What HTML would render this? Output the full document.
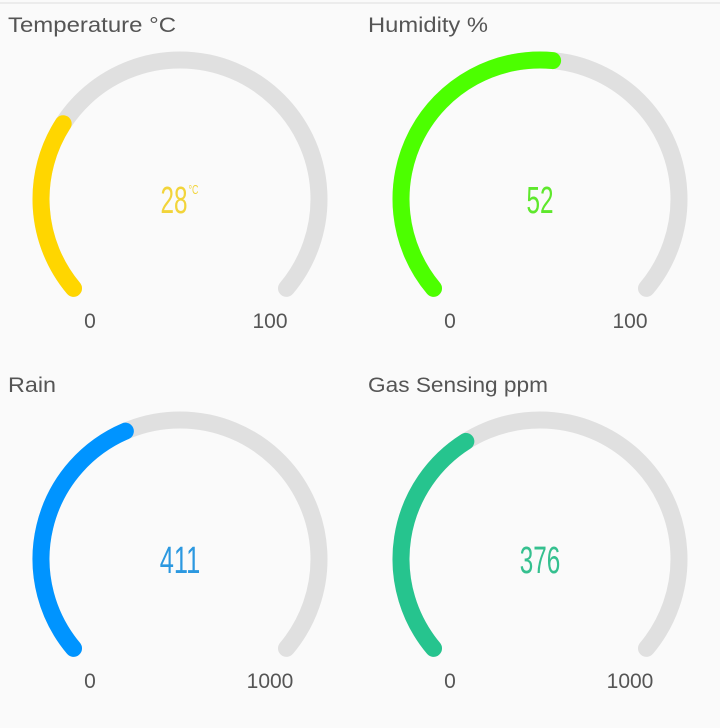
<!DOCTYPE html>
<html><head><meta charset="utf-8">
<style>
html,body{margin:0;padding:0;background:#fafafa;width:720px;height:728px;overflow:hidden;font-family:"Liberation Sans",sans-serif;}
#topline{position:absolute;left:0;top:2px;width:720px;height:2px;background:#ececec;}
svg{position:absolute;left:0;top:0;}
</style></head>
<body>
<div id="topline"></div>
<svg id="g" width="720" height="728"></svg>
<script>
const titles = ["Temperature °C","Humidity %","Rain","Gas Sensing ppm"];
const values = [28,52,411,376];
const maxVals = [100,100,1000,1000];
const units = ["°C","","",""];
const colors = ["#FFD600","#4CFF00","#0094FF","#26C48E"];
const textColors = ["#F2D43A","#5EE82C","#2B98E0","#35C08F"];
const names = ["temperature","humidity","rain","gas-sensing"];

const svg = document.getElementById('g');
const NS = "http://www.w3.org/2000/svg";
const R = 139, SW = 17, START = 220, SWEEP = 260;
function pt(cx,cy,deg){const a=deg*Math.PI/180;return [cx+R*Math.cos(a),cy-R*Math.sin(a)];}
function arc(cx,cy,a0,a1){
  const p0=pt(cx,cy,a0),p1=pt(cx,cy,a1);
  const large=(a0-a1)>180?1:0;
  return `M${p0[0]} ${p0[1]} A${R} ${R} 0 ${large} 1 ${p1[0]} ${p1[1]}`;
}
function mk(tag,attrs,parent){const e=document.createElementNS(NS,tag);for(const k in attrs)e.setAttribute(k,attrs[k]);(parent||svg).appendChild(e);return e;}

titles.forEach((t,i)=>{
  const col=i%2,row=Math.floor(i/2);
  const ox=col*360, cx=ox+180, cy=199+row*360;
  const g=mk('g',{});
  
  
  const title=mk('text',{x:ox+8,y:row*360+32,'font-size':21,fill:'#555','font-family':'"Liberation Sans",sans-serif',textLength:t.length*12,lengthAdjust:'spacingAndGlyphs'},g);
  title.textContent=t;
  
  
  const track=mk('path',{d:arc(cx,cy,START,START-SWEEP),stroke:'#e0e0e0','stroke-width':SW,fill:'none','stroke-linecap':'round'},g);
  
  
  const frac=Math.max(0,Math.min(1,values[i]/maxVals[i]));
  const va=mk('path',{d:arc(cx,cy,START,START-SWEEP*frac),stroke:colors[i],'stroke-width':SW,fill:'none','stroke-linecap':'round'},g);
  
  
  const s=String(values[i]);
  const w=s.length*13.5;
  const shift=units[i]?-6:0;
  const vt=mk('text',{x:cx-w/2+shift,y:cy+14,'font-size':38,fill:textColors[i],textLength:w,lengthAdjust:'spacingAndGlyphs'},g);
  vt.textContent=s;
  
  
  if(units[i]){
    const ut=mk('text',{x:cx+w/2+shift+1,y:cy-5,'font-size':13,fill:textColors[i],textLength:10,lengthAdjust:'spacingAndGlyphs'},g);
    ut.textContent=units[i];
    
    
  }
  const mn=mk('text',{x:cx-90,y:cy+129,'text-anchor':'middle','font-size':21,fill:'#555'},g);
  mn.textContent='0';
  
  
  const mx=mk('text',{x:cx+90,y:cy+129,'text-anchor':'middle','font-size':21,fill:'#555'},g);
  mx.textContent=String(maxVals[i]);
  
  
});
</script>
</body></html>
